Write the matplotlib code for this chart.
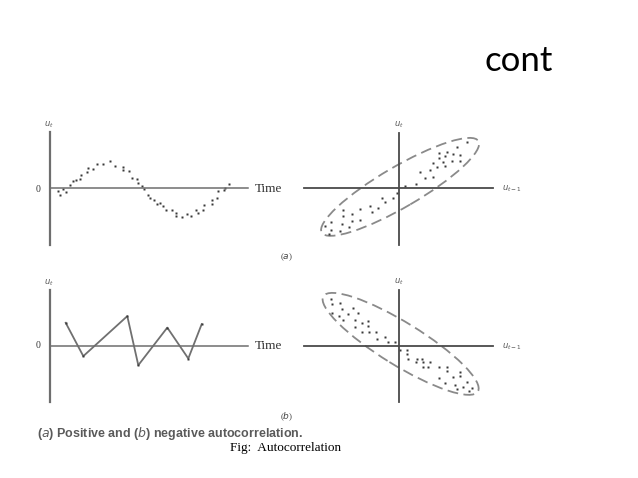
import matplotlib.pyplot as plt
import numpy as np
from matplotlib.patches import Ellipse

# Panel (a), left: residuals over time (positive autocorrelation)
time_a = [0.77, 1.0, 1.33, 1.57, 2.0, 2.33, 2.6, 3.0, 3.07, 3.67, 3.83, 4.27,
          4.67, 5.33, 6.0, 6.5, 7.27, 7.33, 7.93, 8.17, 8.67, 8.83, 9.23, 9.4,
          9.83, 10.0, 10.4, 10.67, 11.0, 11.27, 11.57, 12.17, 12.57, 12.6,
          13.17, 13.67, 14.07, 14.57, 14.77, 15.27, 15.4, 16.17, 16.17, 16.67,
          16.83, 17.4, 17.5, 17.93]
resid_a = [-0.13, -0.28, -0.05, -0.16, 0.10, 0.25, 0.29, 0.33, 0.50, 0.60,
           0.76, 0.73, 0.89, 0.89, 1.0, 0.83, 0.79, 0.66, 0.63, 0.39, 0.35,
           0.19, 0.06, -0.05, -0.28, -0.38, -0.46, -0.61, -0.56, -0.68, -0.81,
           -0.84, -0.93, -1.05, -1.09, -0.96, -1.04, -0.81, -0.93, -0.81,
           -0.65, -0.61, -0.44, -0.36, -0.13, -0.06, 0.01, 0.14]

# Panel (a), right: u_t against u_{t-1}
lag_a = [2.56, 2.16, 1.79, 1.48, 2.01, 2.29, 1.48, 1.73, 1.26, 1.66, 1.98, 2.29,
         1.41, 1.16, 1.73, 0.79, 0.98, 1.26, 0.64, 0.23, -0.06, -0.21, -0.65,
         -0.53, -1.09, -0.78, -1.46, -1.03, -1.78, -2.09, -2.09, -1.46, -1.78,
         -2.15, -2.53, -1.86, -2.21, -2.53, -2.78, -2.61]
cur_a = [1.73, 1.53, 1.35, 1.31, 1.29, 1.25, 1.13, 1.19, 0.94, 0.98, 1.0, 1.0,
         0.79, 0.69, 0.81, 0.59, 0.38, 0.40, 0.16, 0.06, -0.19, -0.38, -0.38,
         -0.54, -0.69, -0.75, -0.79, -0.91, -0.96, -0.84, -1.06, -1.19, -1.25,
         -1.35, -1.28, -1.46, -1.63, -1.56, -1.44, -1.73]

# Panel (b), left: residuals over time (negative autocorrelation)
time_b = [1.57, 3.33, 7.73, 8.83, 11.73, 13.83, 15.17]
resid_b = [0.86, -0.39, 1.11, -0.73, 0.68, -0.48, 0.81]

# Panel (b), right: u_t against u_{t-1}
lag_b = [-2.53, -2.21, -2.5, -2.15, -1.71, -2.5, -1.9, -1.53, -2.24, -1.65,
         -1.18, -2.11, -1.4, -1.65, -1.15, -1.4, -1.13, -0.86, -0.81, -0.53,
         -0.4, -0.15, 0.04, 0.29, 0.31, 0.35, 0.66, 0.85, 0.64, 0.91, 1.16,
         0.91, 1.1, 1.48, 1.79, 1.48, 1.79, 2.04, 2.29, 2.29, 1.73, 2.1, 2.54,
         2.41, 2.16, 2.73, 2.63]
cur_b = [1.75, 1.59, 1.55, 1.38, 1.43, 1.24, 1.18, 1.24, 1.11, 0.96, 0.94, 0.96,
         0.84, 0.71, 0.74, 0.53, 0.53, 0.53, 0.25, 0.34, 0.15, 0.13, -0.16,
         -0.16, -0.31, -0.48, -0.48, -0.48, -0.6, -0.6, -0.6, -0.81, -0.81,
         -0.79, -0.79, -1.2, -0.95, -1.16, -0.98, -1.14, -1.41, -1.48, -1.35,
         -1.54, -1.64, -1.6, -1.7]

# dashed envelopes: (centre x, centre y, width, height, angle)
ellipse_a = (0.04, 0.04, 6.8, 1.52, 30.3)
ellipse_b = (0.06, 0.07, 6.8, 1.6, -31.7)

W, H = 638, 478
fig = plt.figure(figsize=(W / 100, H / 100), dpi=100)
fig.patch.set_facecolor('white')

axis_col = '#6e6e6e'
dot_col = '#383838'
serif = 'Liberation Serif'


def panel(x0, y0, x1, y1):
    # axes placed by pixel box (top-left origin)
    ax = fig.add_axes([x0 / W, 1 - y1 / H, (x1 - x0) / W, (y1 - y0) / H])
    ax.set_facecolor('none')
    for s in ['top', 'right']:
        ax.spines[s].set_visible(False)
    ax.spines['left'].set_position(('data', 0))
    ax.spines['bottom'].set_position(('data', 0))
    ax.set_xticks([])
    ax.set_yticks([])
    return ax


def ftext(x, y, s, **kw):
    fig.text(x / W, 1 - y / H, s, **kw)


# (a) time plot
ax1 = panel(50, 132, 248, 245)
ax1.set_xlim(0, 19.8)
ax1.set_ylim(-2.14, 2.1)
ax1.spines['left'].set_linewidth(1.6)
ax1.spines['bottom'].set_linewidth(1.1)
for s in ax1.spines.values():
    s.set_color(axis_col)
ax1.plot(time_a, resid_a, 's', ms=2.0, color=dot_col, mec='none')

# (a) lag plot
ax2 = panel(304, 133, 493, 245)
ax2.set_xlim(-3.56, 3.52)
ax2.set_ylim(-2.14, 2.06)
for s in ax2.spines.values():
    s.set_color('#4a4a4a')
    s.set_linewidth(1.3)
ax2.add_patch(Ellipse(ellipse_a[:2], ellipse_a[2], ellipse_a[3], angle=ellipse_a[4],
                      fill=False, ls=(0, (6, 3)), lw=1.3, color='#8a8a8a',
                      clip_on=False))
ax2.plot(lag_a, cur_a, 's', ms=2.0, color=dot_col, mec='none', clip_on=False)

# (b) time plot
ax3 = panel(50, 290, 248, 402)
ax3.set_xlim(0, 19.8)
ax3.set_ylim(-2.11, 2.09)
ax3.spines['left'].set_linewidth(1.6)
ax3.spines['bottom'].set_linewidth(1.1)
for s in ax3.spines.values():
    s.set_color(axis_col)
ax3.plot(time_b, resid_b, '-', lw=1.3, color='#707070')
ax3.plot(time_b, resid_b, 's', ms=2.0, color=dot_col, mec='none')

# (b) lag plot
ax4 = panel(304, 290, 493, 402)
ax4.set_xlim(-3.56, 3.52)
ax4.set_ylim(-2.11, 2.09)
for s in ax4.spines.values():
    s.set_color('#4a4a4a')
    s.set_linewidth(1.3)
ax4.add_patch(Ellipse(ellipse_b[:2], ellipse_b[2], ellipse_b[3], angle=ellipse_b[4],
                      fill=False, ls=(0, (6, 3)), lw=1.3, color='#8a8a8a',
                      clip_on=False))
ax4.plot(lag_b, cur_b, 's', ms=2.0, color=dot_col, mec='none', clip_on=False)

# small axis labels
lab = dict(fontsize=6, color='#555555', ha='center', va='center')
ftext(49, 125, r'$u_t$', **lab)
ftext(49, 283, r'$u_t$', **lab)
ftext(399, 125, r'$u_t$', **lab)
ftext(399, 282, r'$u_t$', **lab)
ftext(512, 189, r'$u_{t-1}$', **lab)
ftext(512, 347, r'$u_{t-1}$', **lab)
for yy in (189, 346):
    ftext(38, yy, '0', fontsize=7, family=serif, color='#333333',
          ha='center', va='center')
    ftext(255, yy, 'Time', fontsize=9.5, family=serif, color='#333333',
          ha='left', va='center')
ftext(287, 257, '($a$)', fontsize=6.5, family=serif, color='#444444',
      ha='center', va='center')
ftext(287, 417, '($b$)', fontsize=6.5, family=serif, color='#444444',
      ha='center', va='center')

# captions
ftext(37, 434, r'($\it{a}$) Positive and ($\it{b}$) negative autocorrelation.',
      fontsize=9, family='Liberation Sans', color='#5a5a5a',
      ha='left', va='center', weight='bold')
ftext(230, 448, 'Fig:  Autocorrelation', fontsize=9.5, family=serif,
      color='black', ha='left', va='center')

# slide title
ftext(485, 61, 'cont', fontsize=25, family='Lato', color='black',
      ha='left', va='center')

fig.savefig('out.png', dpi=100)
